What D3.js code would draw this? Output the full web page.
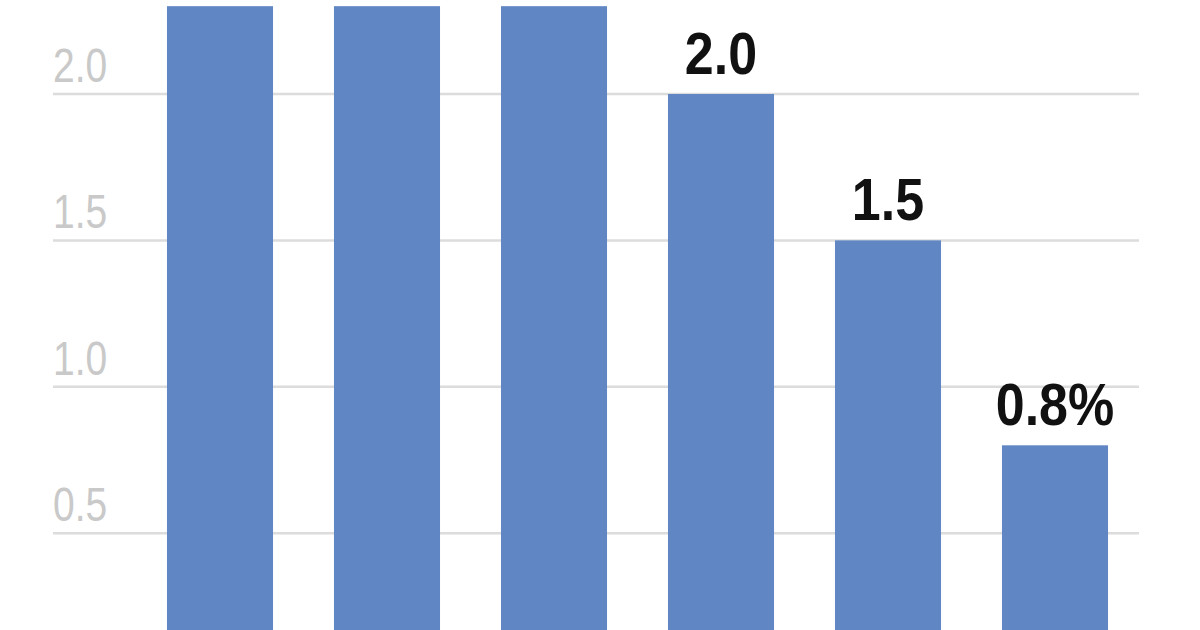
<!DOCTYPE html>
<html>
<head>
<meta charset="utf-8">
<script src="https://cdn.jsdelivr.net/npm/d3@7"></script>
<style>
  body { margin: 0; background: #fff; }
  svg { display: block; }
</style>
</head>
<body>
<svg width="1200" height="630"></svg>
<script>

// data (x labels are cropped away in the reference)
var categories = ["c1", "c2", "c3", "c4", "c5", "c6"]
var values = [2.3, 2.3, 2.3, 2.0, 1.5, 0.8]
var valueLabels = ["", "", "", "2.0", "1.5", "0.8%"]
var yTicks = [0, 0.5, 1.0, 1.5, 2.0]
var yTickLabels = ["0", "0.5", "1.0", "1.5", "2.0"]

var svg = d3.select("svg")

var x = d3.scaleBand().domain(categories).range([136.5, 1138.5])
  .paddingInner(0.365).paddingOuter(0.1825)

var y = d3.scaleLinear().domain([0, 2]).range([679.5, 94])

// gridlines

svg.selectAll(".grid").data(yTicks)
  .enter().append("line")
    .attr("class", "grid")
    .attr("x1", 53)
    .attr("x2", 1139)
    .attr("y1", function(d){ return y(d); })
    .attr("y2", function(d){ return y(d); })
    .style("stroke", "#dcdcdc")
    .style("stroke-width", 2.5)

// tick labels (stretched a little vertically like the source image)

svg.selectAll(".tick-label").data(yTicks)
  .enter().append("text")
    .attr("class", "tick-label")
    .attr("transform", function(d){ return "translate(53," + (y(d) - 12) + ") scale(1,1.22)"; })
    .text(function(d, i){ return yTickLabels[i]; })
    .style("font-family", "Liberation Sans, Arial, sans-serif")
    .style("font-size", "39px")
    .style("fill", "#c9c9c9")

// bars

svg.selectAll(".bar").data(values)
  .enter().append("rect")
    .attr("class", "bar")
    .attr("x", function(d, i){ return x(categories[i]); })
    .attr("width", x.bandwidth())
    .attr("y", function(d){ return y(d); })
    .attr("height", function(d){ return y(0) - y(d); })
    .style("fill", "#6087c4")

// value labels

svg.selectAll(".value-label").data(values)
  .enter().append("text")
    .attr("class", "value-label")
    .attr("text-anchor", "middle")
    .attr("transform", function(d, i){
      return "translate(" + (x(categories[i]) + x.bandwidth() / 2) + "," + (y(d) - 20) + ") scale(1,1.15)"
    })
    .text(function(d, i){ return valueLabels[i]; })
    .style("font-family", "Liberation Sans, Arial, sans-serif")
    .style("font-weight", "bold")
    .style("font-size", "52px")
    .style("fill", "#111")

</script>
</body>
</html>
